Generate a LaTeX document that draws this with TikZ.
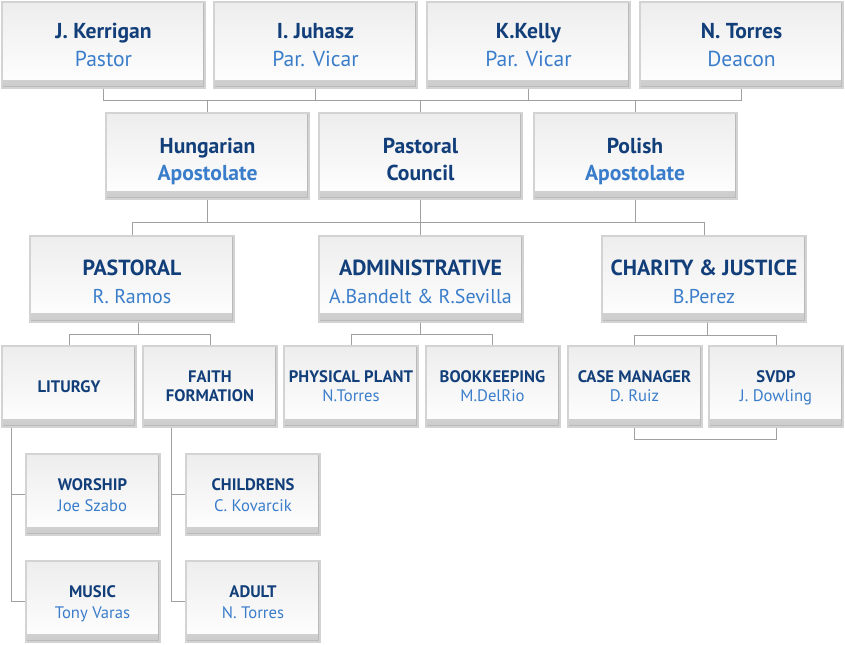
\documentclass[tikz,border=0pt]{standalone}
\usepackage{fontspec}
\setmainfont{PT Sans}
\usetikzlibrary{calc}
\definecolor{navy}{HTML}{123F7A}
\definecolor{sky}{HTML}{3A7DCB}
\definecolor{bord}{HTML}{D3D3D3}
\definecolor{shad}{HTML}{BABABA}
\definecolor{topg}{HTML}{EDEDED}
\definecolor{linec}{HTML}{A0A0A0}
\newcommand\ta[1]{{\fontsize{16.2}{21}\selectfont\bfseries\color{navy}#1}}
\newcommand\sa[1]{{\fontsize{16.2}{21}\selectfont\color{sky}#1}}
\newcommand\sab[1]{{\fontsize{16.2}{21}\selectfont\bfseries\color{sky}#1}}
\newcommand\tc[1]{{\fontsize{16.4}{21}\selectfont\bfseries\color{navy}#1}}
\newcommand\scc[1]{{\fontsize{15}{21}\selectfont\color{sky}#1}}
\newcommand\td[1]{{\fontsize{12.5}{14.6}\selectfont\bfseries\color{navy}#1}}
\newcommand\sd[1]{{\fontsize{12.5}{14.6}\selectfont\color{sky}#1}}
% two lines with fixed top strut (#1) and bottom strut (#2)
\newcommand\two[4]{\rule{0pt}{#1}#3\\#4\rule[-#2]{0pt}{0pt}}
\tikzset{
  x=0.75pt, y=-0.75pt,
  orgbox/.style={draw=bord, line width=1.5pt, top color=topg, bottom color=white,
    inner sep=0pt, align=center,
    path picture={
      \path[top color=white, bottom color=shad!75]
        ($(path picture bounding box.south west)+(0pt,6pt)$) rectangle (path picture bounding box.south east);
      \draw[shad, line width=2.4pt] (path picture bounding box.north east) -- (path picture bounding box.south east) -- (path picture bounding box.south west);
    }},
  bigbox/.style={orgbox, minimum width=203*0.75pt, minimum height=86*0.75pt, font=\fontsize{16}{21}\selectfont},
  councilbox/.style={bigbox, font=\fontsize{16}{20.25}\selectfont},
  midbox/.style={orgbox, minimum width=204*0.75pt, minimum height=86*0.75pt, font=\fontsize{15}{21}\selectfont},
  smallbox/.style={orgbox, minimum width=134*0.75pt, minimum height=81*0.75pt, font=\fontsize{12.5}{14.6}\selectfont},
  subbox/.style={smallbox, font=\fontsize{12.5}{15.75}\selectfont},
  conn/.style={draw=linec, line width=0.75pt}
}
\begin{document}
\begin{tikzpicture}
\fill[white] (0,0) rectangle (845,644);
\useasboundingbox (0,0) rectangle (845,644);
% top row
\node[bigbox] (k)  at (103.5,45) {\two{15.5pt}{5pt}{\ta{J. Kerrigan}}{\sa{Pastor}}};
\node[bigbox] (j)  at (315.5,45) {\two{15.5pt}{5pt}{\ta{I. Juhasz}}{\sa{Par. Vicar}}};
\node[bigbox] (kk) at (528.5,45) {\two{15.5pt}{5pt}{\ta{K.Kelly}}{\sa{Par. Vicar}}};
\node[bigbox] (t)  at (741.5,45) {\two{15.5pt}{5pt}{\ta{N. Torres}}{\sa{Deacon}}};
% second row
\node[councilbox] (hung)    at (207.5,156) {\two{20.75pt}{5pt}{\ta{Hungarian}}{\sab{Apostolate}}};
\node[councilbox] (council) at (420.5,156) {\two{20.75pt}{5pt}{\ta{Pastoral}}{\ta{Council}}};
\node[councilbox] (polish)  at (635,156)   {\two{20.75pt}{5pt}{\ta{Polish}}{\sab{Apostolate}}};
% third row
\node[midbox] (pastoral) at (132,278.5)   {\two{20.75pt}{5pt}{\tc{PASTORAL}}{\scc{R. Ramos}}};
\node[midbox] (admin)    at (420.5,278.5) {\two{20.75pt}{5pt}{\tc{ADMINISTRATIVE}}{\scc{A.Bandelt \& R.Sevilla}}};
\node[midbox] (charity)  at (704,278.5)   {\two{20.75pt}{5pt}{\tc{CHARITY \& JUSTICE}}{\scc{B.Perez}}};
% fourth row
\node[smallbox] (liturgy) at (69,386.5)    {\rule{0pt}{12.25pt}\td{LITURGY}\rule[-4pt]{0pt}{0pt}};
\node[smallbox] (faith)   at (210,386.5)   {\two{12.5pt}{4pt}{\td{FAITH}}{\td{FORMATION}}};
\node[smallbox] (plant)   at (351,386.5)   {\two{12.5pt}{4pt}{\td{PHYSICAL PLANT}}{\sd{N.Torres}}};
\node[smallbox] (book)    at (492.5,386.5) {\two{12.5pt}{4pt}{\td{BOOKKEEPING}}{\sd{M.DelRio}}};
\node[smallbox] (case)    at (634.5,386.5) {\two{12.5pt}{4pt}{\td{CASE MANAGER}}{\sd{D. Ruiz}}};
\node[smallbox] (svdp)    at (776,386.5)   {\two{12.5pt}{4pt}{\td{SVDP}}{\sd{J. Dowling}}};
% fifth rows
\node[subbox] (worship)   at (92.5,494.5) {\two{13pt}{4pt}{\td{WORSHIP}}{\sd{Joe Szabo}}};
\node[subbox] (childrens) at (253,494.5)  {\two{13pt}{4pt}{\td{CHILDRENS}}{\sd{C. Kovarcik}}};
\node[subbox] (music)     at (92.5,601.5) {\two{13pt}{4pt}{\td{MUSIC}}{\sd{Tony Varas}}};
\node[subbox] (adult)     at (253,601.5)  {\two{13pt}{4pt}{\td{ADULT}}{\sd{N. Torres}}};
% bus coordinates
\coordinate (busA) at (0,100);
\coordinate (busB) at (0,222);
\coordinate (busC) at (0,334);
\coordinate (busCc) at (0,335);
\coordinate (busD) at (0,439);
% connectors top -> second
\draw[conn] (k.south) -- (k.south |- busA) -- (t.south |- busA) -- (t.south);
\draw[conn] (j.south) -- (j.south |- busA);
\draw[conn] (kk.south) -- (kk.south |- busA);
\draw[conn] (hung.north |- busA) -- (hung.north);
\draw[conn] (council.north |- busA) -- (council.north);
\draw[conn] (polish.north |- busA) -- (polish.north);
% second -> third
\draw[conn] (hung.south) -- (hung.south |- busB);
\draw[conn] (polish.south) -- (polish.south |- busB);
\draw[conn] (council.south) -- (admin.north);
\draw[conn] (pastoral.north) -- (pastoral.north |- busB) -- (charity.north |- busB) -- (charity.north);
% third -> fourth
\coordinate (pd) at ($(pastoral.south)+(6,0)$);
\draw[conn] (pd) -- (pd |- busC);
\draw[conn] (liturgy.north) -- (liturgy.north |- busC) -- (faith.north |- busC) -- (faith.north);
\draw[conn] (admin.south) -- (admin.south |- busC);
\draw[conn] (plant.north) -- (plant.north |- busC) -- (book.north |- busC) -- (book.north);
\coordinate (cd) at ($(charity.south)+(3,0)$);
\draw[conn] (cd) -- (cd |- busCc);
\draw[conn] (case.north) -- (case.north |- busCc) -- (svdp.north |- busCc) -- (svdp.north);
\draw[conn] (case.south) -- (case.south |- busD) -- (svdp.south |- busD) -- (svdp.south);
% fourth -> fifth
\coordinate (lv) at ($(liturgy.south west)+(10,0)$);
\draw[conn] (lv) |- (worship.west);
\draw[conn] (lv) |- (music.west);
\coordinate (fv) at ($(faith.south west)+(29,0)$);
\draw[conn] (fv) |- (childrens.west);
\draw[conn] (fv) |- (adult.west);
\end{tikzpicture}
\end{document}
